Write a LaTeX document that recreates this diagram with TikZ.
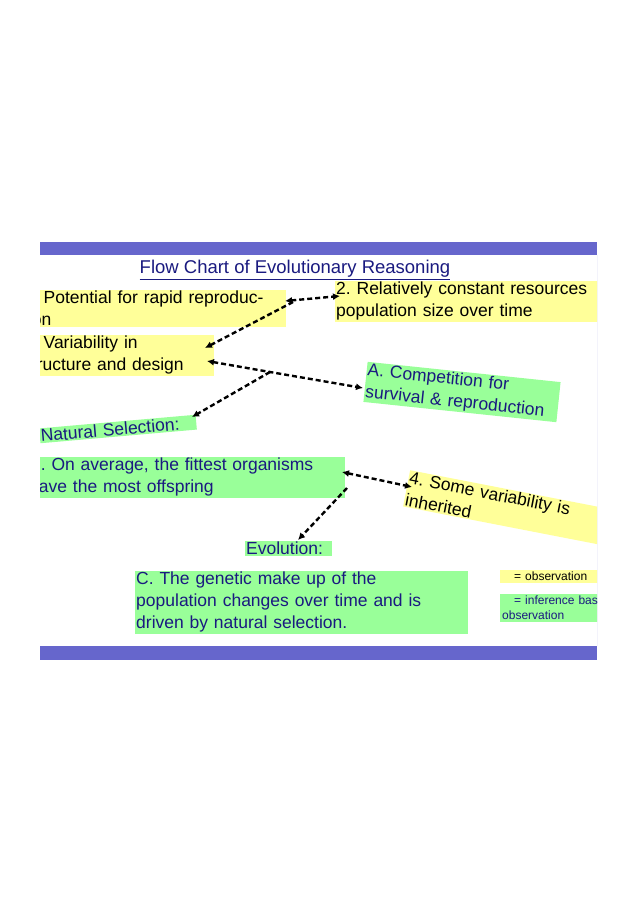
\documentclass[tikz,border=0pt]{standalone}
\usepackage{fontspec}
\setmainfont{Liberation Sans}
\usetikzlibrary{arrows.meta}
\definecolor{obs}{HTML}{FFFF99}
\definecolor{inf}{HTML}{99FF99}
\definecolor{bar}{HTML}{6666CC}
\definecolor{navy}{HTML}{1A1A80}
\frenchspacing
\begin{document}
\begin{tikzpicture}[x=1pt,y=-1pt,
  box/.style={inner sep=1pt,anchor=north west,align=left,font=\fontsize{17.5}{22}\selectfont},
  yb/.style={box,fill=obs,text=black},
  gb/.style={box,fill=inf,text=navy},
  >={Latex[length=7pt,width=7pt]},
  con/.style={black,line width=2.4pt,dash pattern=on 5pt off 3pt,->}]
\useasboundingbox (0,0) rectangle (638,903);
\fill[white] (0,0) rectangle (638,903);
\begin{scope}
\clip (40,242) rectangle (597,660);
\fill[bar] (40,242) rectangle (597,255);
\fill[bar] (40,646) rectangle (597,660);
\draw[bar!60] (597,255) -- (597,646);
\node[anchor=center,text=navy,font=\fontsize{18.5}{20}\selectfont] (title) at (295,270) {\underline{Flow Chart of Evolutionary Reasoning}};
\node[yb,text width=262pt] (n1) at (22,290) {1. Potential for rapid reproduction};
\node[yb,text width=270pt] (n2) at (335,281) {2. Relatively constant resources\\population size over time};
\node[yb,text width=190pt] (n3) at (22,335) {3. Variability in\\structure and design};
\node[gb,text width=192pt,anchor=center,rotate=-6] (nA) at (462,392) {A. Competition for\\survival \& reproduction};
\node[gb,anchor=center,rotate=5,text width=155pt] (ns) at (118,429) {Natural Selection:};
\node[gb,text width=315pt] (nB) at (28,457) {B. On average, the fittest organisms\\have the most offspring};
\node[yb,anchor=north west,rotate=-11,text width=210pt] (n4) at (410,470) {4. Some variability is\\inherited};
\node[gb,text width=85pt] (ev) at (245,541) {Evolution:};
\node[gb,text width=331pt] (nC) at (135,571) {C. The genetic make up of the\\population changes over time and is\\driven by natural selection.};
\node[fill=obs,inner sep=2pt,anchor=north west,text width=130pt,align=left,font=\fontsize{12}{14.5}\selectfont] (l1) at (500,570) {\ \ \ = observation};
\node[fill=inf,inner sep=2pt,anchor=north west,text width=130pt,align=left,font=\fontsize{12}{14.5}\selectfont,text=navy] (l2) at (500,594) {\ \ \ = inference based on\\observation};
\coordinate (j1) at (293,302);
\coordinate (j2) at (270,372);
\coordinate (j3) at (347,488);
\draw[con,<->] (285,301) -- (340,296);
\draw[con] (j1) -- (205,348);
\draw[con,<->] (207,361) -- (j2) -- (363,388);
\draw[con] (j2) -- (192,417);
\draw[con,<->] (342,472) -- (412,487);
\draw[con] (j3) -- (298,540);
\end{scope}
\end{tikzpicture}
\end{document}
